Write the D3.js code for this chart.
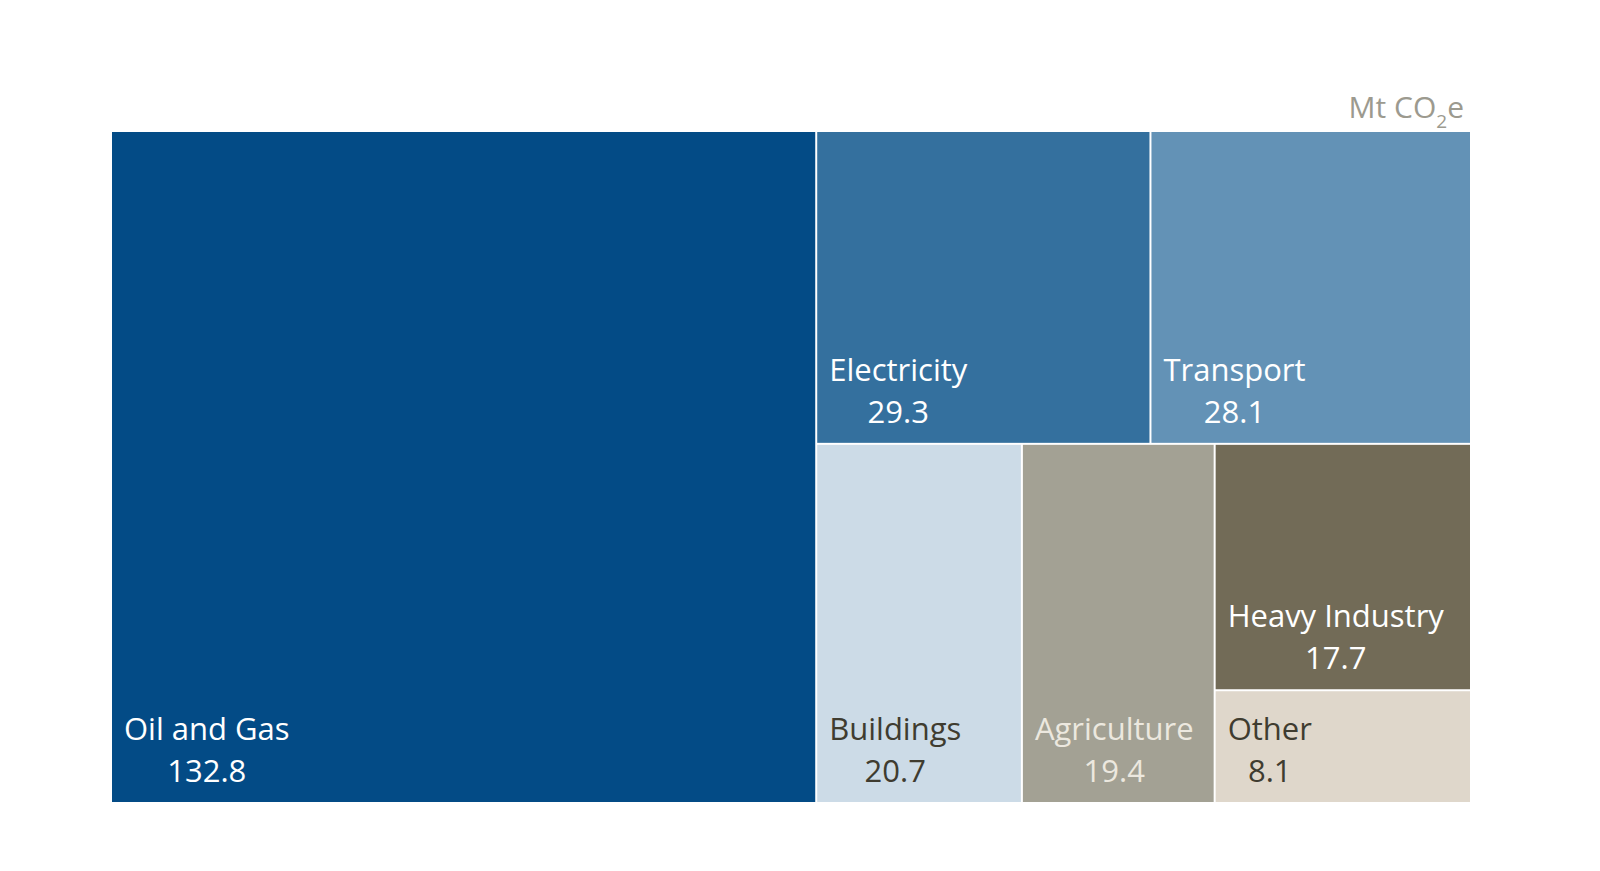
<!DOCTYPE html>
<html>
<head>
<meta charset="utf-8">
<script src="https://cdn.jsdelivr.net/npm/d3@7"></script>
<style>
  html, body { margin: 0; padding: 0; background: #fff; }
  svg text { font-family: "Open Sans", "Noto Sans", sans-serif; }
</style>
</head>
<body>
<div id="chart"></div>
<script>
// Emissions by sector, Mt CO2e
const sectors = ['Oil and Gas', 'Electricity', 'Transport', 'Buildings', 'Agriculture', 'Heavy Industry', 'Other'];
const values = [132.8, 29.3, 28.1, 20.7, 19.4, 17.7, 8.1];
const fills = ['#034b86', '#34709e', '#6392b6', '#ccdbe7', '#a3a194', '#726b57', '#dfd7cb'];
const textColors = ['#ffffff', '#ffffff', '#ffffff', '#3f3c30', '#ece8df', '#ffffff', '#3f3c30'];

// grouping used by the layout (names refer to the sectors above)
const groups = {
  name: 'root',
  children: [
    'Oil and Gas',
    { name: 'rest', children: [
      { name: 'top', children: ['Electricity', 'Transport'] },
      { name: 'bottom', children: ['Buildings', 'Agriculture',
        { name: 'small', children: ['Heavy Industry', 'Other'] }] }
    ] }
  ]
};

const width = 1600;
const height = 871;
const margin = { top: 132, right: 130, bottom: 69, left: 112 };
const innerWidth = width - margin.left - margin.right;
const innerHeight = height - margin.top - margin.bottom;

function build(node) {
  if (typeof node === 'string') {
    const i = sectors.indexOf(node);
    return { name: node, value: values[i], index: i };
  }
  return { name: node.name, children: node.children.map(build) };
}

const root = d3.hierarchy(build(groups))
  .sum(d => d.children ? 0 : d.value);

d3.treemap()
  .tile(d3.treemapSliceDice)
  .size([innerWidth, innerHeight])
  .paddingInner(2)
  .round(false)(root);

const svg = d3.select('#chart')
  .append('svg')
  .attr('width', width)
  .attr('height', height);

const g = svg.append('g')
  .attr('transform', `translate(${margin.left},${margin.top})`);

const leaves = g.selectAll('.cell')
  .data(root.leaves())
  .enter()
  .append('g')
  .attr('class', 'cell');

leaves.append('rect')
  .attr('x', d => d.x0)
  .attr('y', d => d.y0)
  .attr('width', d => d.x1 - d.x0)
  .attr('height', d => d.y1 - d.y0)
  .attr('fill', d => fills[d.data.index]);

// label + value, value centred under the label
leaves.each(function(d) {
  const cell = d3.select(this);
  const color = textColors[d.data.index];
  const label = cell.append('text')
    .attr('x', d.x0 + 12)
    .attr('y', d.y1 - 62)
    .style('font-size', '31px')
    .style('fill', color)
    .text(d.data.name);
  const w = label.node().getComputedTextLength();
  cell.append('text')
    .attr('x', d.x0 + 12 + w / 2)
    .attr('y', d.y1 - 20)
    .attr('text-anchor', 'middle')
    .style('font-size', '31px')
    .style('fill', color)
    .text(d3.format('.1f')(d.data.value));
});

// unit label
const unit = svg.append('text')
  .attr('x', margin.left + innerWidth - 6)
  .attr('y', margin.top - 14)
  .attr('text-anchor', 'end')
  .style('font-size', '30px')
  .style('fill', '#9c9a8f');
unit.append('tspan').text('Mt CO');
unit.append('tspan').attr('dy', 10).style('font-size', '19px').text('2');
unit.append('tspan').attr('dy', -10).text('e');
</script>
</body>
</html>
